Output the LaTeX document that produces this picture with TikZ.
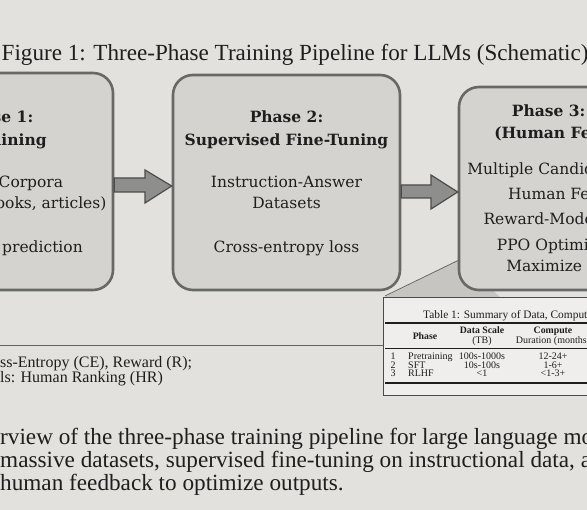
\documentclass[tikz,border=0pt]{standalone}
\usepackage{fontspec}
\setmainfont{Liberation Serif}
\newfontfamily\boxfont{DejaVu Serif}
\definecolor{paper}{HTML}{E2E1DD}
\definecolor{boxfill}{HTML}{D4D3CF}
\definecolor{boxline}{HTML}{686866}
\definecolor{arrowfill}{HTML}{8E8E8C}
\definecolor{wedgefill}{HTML}{C6C5C1}
\definecolor{ink}{HTML}{1E1E1E}
\begin{document}
\begin{tikzpicture}[x=1pt, y=-1pt,
    phase/.style={draw=boxline, line width=2.6pt, fill=boxfill,
                  rounded corners=20pt, inner sep=0pt},
    phasetext/.style={align=center, inner sep=0pt, anchor=base, text=ink,
                      font=\boxfont\fontsize{15.5}{21}\selectfont},
    fatarrow/.style={draw=black!70, line width=1.2pt, fill=arrowfill},
    cell/.style={inner sep=0pt, anchor=base, text=ink,
                 font=\fontsize{10}{10}\selectfont},
    head/.style={cell, font=\bfseries\fontsize{9.8}{10}\selectfont},
    plain/.style={inner sep=0pt, anchor=base west, align=left, text=ink},
]
\useasboundingbox (0,0) rectangle (587,510);
\clip (0,0) rectangle (587,510);
\fill[paper] (0,0) rectangle (587,510);

\node[plain, font=\fontsize{23.1}{25}\selectfont] (title) at (1.5,61)
    {Figure 1: Three-Phase Training Pipeline for LLMs (Schematic)};

\fill[wedgefill] (385,297) -- (459,260) -- (500,297) -- cycle;
\draw[boxline, line width=0.8pt] (385,296) -- (459,260);

\node[phase, minimum width=233pt, minimum height=217pt] (b1) at (-3.5,181.5) {};
\node[phase, minimum width=227pt, minimum height=215pt] (b2) at (286.5,182.5) {};
\node[phase, minimum width=236pt, minimum height=203pt] (b3) at (577,188.5) {};

% last baseline of each block
\node[phasetext] (t1) at (-3.5,253) {\textbf{Phase 1:}\\[2pt]\textbf{Pretraining}\\[21pt]
    Massive Corpora\\(web pages, books, articles)\\[23pt]Next-token prediction};
\node[phasetext] (t2) at (286.5,253) {\textbf{Phase 2:}\\[2pt]\textbf{Supervised Fine-Tuning}\\[21pt]
    Instruction-Answer\\Datasets\\[23pt]Cross-entropy loss};
\node[phasetext] (t3) at (577,272) {\textbf{Phase 3: RLHF}\\[1pt]\textbf{(Human Feedback)}\\[15pt]
    Multiple Candidate Outputs\\[4pt]Human Feedback\\[4pt]Reward-Model Training\\[5pt]
    PPO Optimization to\\Maximize Reward};

\draw[fatarrow] (b1.east |- 0,178) -- (145,178) -- (145,170) -- (b2.west |- 0,186)
    -- (145,203) -- (145,192) -- (b1.east |- 0,192) -- cycle;
\draw[fatarrow] (b2.east |- 0,185) -- (431,185) -- (431,175) -- (b3.west |- 0,192)
    -- (431,209) -- (431,198) -- (b2.east |- 0,198) -- cycle;

\node[draw=ink!80, line width=1pt, fill=paper!55!white, inner sep=0pt, anchor=north west,
      minimum width=330pt, minimum height=98pt] (tab) at (383,297) {};
\node[cell, anchor=base west, font=\fontsize{11.4}{12}\selectfont] (tcap) at (423,319)
    {Table 1: Summary of Data, Compute, and Duration};
\draw[ink, line width=1.1pt] (385,323) -- (tab.east |- 0,323);
\draw[ink, line width=0.6pt] (385,348) -- (tab.east |- 0,348);
\draw[ink, line width=1.1pt] (385,383) -- (tab.east |- 0,383);
\node[head] (hph) at (425,340) {Phase};
\node[head] (hds) at (482,334) {Data Scale};
\node[cell] (htb) at (482,344) {(TB)};
\node[head] (hcp) at (553,334) {Compute};
\node[cell] (hdu) at (553,344) {Duration (months)};
\foreach \n/\ph/\ds/\cp [count=\i] in {1/Pretraining/100s-1000s/12-24+,
        2/SFT/10s-100s/1-6+, 3/RLHF/{<1}/{<1-3+}} {
    \pgfmathsetmacro\yy{351.5+8.5*\i}
    \node[cell] (n\i) at (393,\yy) {\n};
    \node[cell, anchor=base west] (p\i) at (408,\yy) {\ph};
    \node[cell] (d\i) at (482,\yy) {\ds};
    \node[cell] (c\i) at (553,\yy) {\cp};
}

\draw[ink!70, line width=0.9pt] (0,345) -- (tab.west |- 0,345);
\node[plain, font=\fontsize{16}{15.5}\selectfont] (legend) at (0,383)
    {\llap{Losses: Cro}ss-Entropy (CE), Reward (R);\\\llap{Feedback Signa}ls: Human Ranking (HR)};

\node[plain, font=\fontsize{23.2}{23}\selectfont] (caption) at (0,491)
    {\llap{Figure 1: Ove}rview of the three-phase training pipeline for large language models:\\
     \llap{pretraining on }massive datasets, supervised fine-tuning on instructional data, and\\
     \llap{reinforcement learning from }human feedback to optimize outputs.};
\end{tikzpicture}
\end{document}
